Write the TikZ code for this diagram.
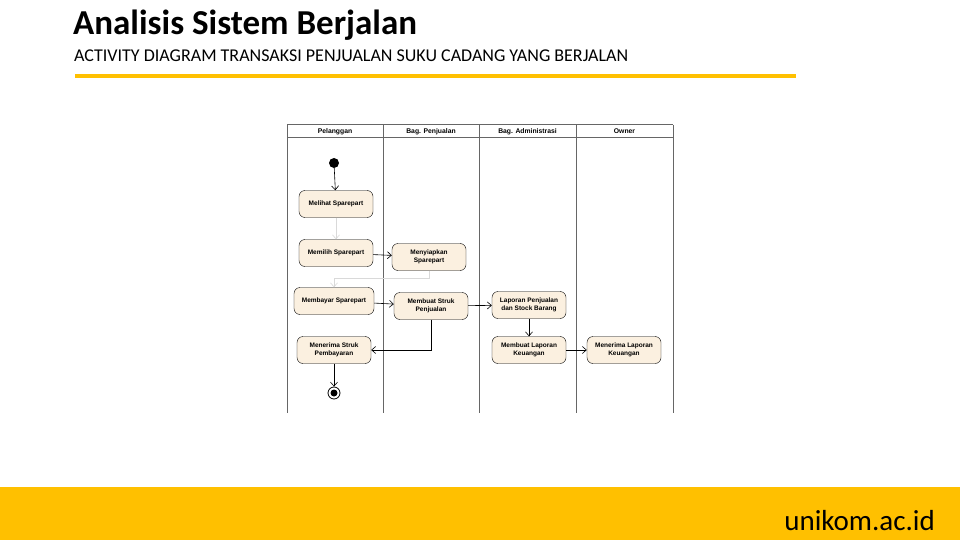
\documentclass[tikz,border=0pt]{standalone}
\usepackage{fontspec}
\setmainfont{Carlito}
\setsansfont{Liberation Sans}
\usetikzlibrary{arrows.meta}
\definecolor{ylw}{HTML}{FFC000}
\definecolor{act}{HTML}{FBF0E0}
\tikzset{
 lane/.style={draw=gray!80!black,line width=1pt},
 actbox/.style={draw=black,fill=act,rounded corners=6pt,minimum width=74pt,minimum height=27pt,inner sep=1pt,align=center,font=\sffamily\bfseries\fontsize{6.5}{8}\selectfont},
 flow/.style={draw=black,line width=0.6pt,-{Straight Barb[length=4pt,width=7pt]}},
 gflow/.style={flow,draw=gray!30},
}
\begin{document}
\begin{tikzpicture}[x=1pt,y=-1pt]
\useasboundingbox (0,0) rectangle (960,540);
\fill[white] (0,0) rectangle (960,540);
\node[anchor=west,inner sep=0,font=\bfseries\fontsize{35}{40}\selectfont] (title) at (73,25) {Analisis Sistem Berjalan};
\node[anchor=west,inner sep=0,font=\fontsize{18}{20}\selectfont] (sub) at (74,56) {ACTIVITY DIAGRAM TRANSAKSI PENJUALAN SUKU CADANG YANG BERJALAN};
\draw[ylw,line width=4pt] (75,76) -- (796,76);
\fill[ylw] (0,487) rectangle (960,540);
\node[anchor=east,inner sep=0,font=\fontsize{29}{32}\selectfont] (url) at (935,521) {unikom.ac.id};
% swimlanes
\draw[lane] (287,125) -- (673,125);
\draw[lane] (287,138) -- (673,138);
\foreach \x in {287,383,479,576,673} \draw[lane] (\x,125) -- (\x,413);
\foreach \t/\x in {Pelanggan/335,Bag. Penjualan/431,Bag. Administrasi/527.5,Owner/624.5}
  \node[font=\sffamily\bfseries\fontsize{6.8}{8}\selectfont] at (\x,131.5) {\t};
% nodes
\node[circle,fill=black,minimum size=10pt,inner sep=0] (start) at (334,163) {};
\node[actbox] (melihat) at (336,204) {Melihat Sparepart};
\node[actbox] (memilih) at (336,253) {Memilih Sparepart};
\node[actbox] (siap) at (429,257) {Menyiapkan\\Sparepart};
\node[actbox,minimum width=80pt] (bayar) at (334,301) {Membayar Sparepart};
\node[actbox] (struk) at (431,306) {Membuat Struk\\Penjualan};
\node[actbox] (lap) at (529,305) {Laporan Penjualan\\dan Stock Barang};
\node[actbox] (terima) at (334,350) {Menerima Struk\\Pembayaran};
\node[actbox] (buatlap) at (529,350) {Membuat Laporan\\Keuangan};
\node[actbox] (terimalap) at (624,350) {Menerima Laporan\\Keuangan};
\node[circle,draw=black,line width=0.8pt,minimum size=12pt,inner sep=0] (end) at (334,393) {};
\fill (end) circle (3.5pt);
% flows
\draw[flow] (start) -- (melihat);
\draw[gflow] (melihat) -- (memilih);
\draw[flow] (memilih) -- (siap);
\draw[gflow] (siap.south) -- ++(0,8) -| (bayar.north);
\draw[flow] (bayar) -- (struk);
\draw[flow] (struk) -- (lap);
\draw[flow] (struk.south) |- (terima.east);
\draw[flow] (lap) -- (buatlap);
\draw[flow] (buatlap) -- (terimalap);
\draw[flow] (terima) -- (end);
\end{tikzpicture}
\end{document}
